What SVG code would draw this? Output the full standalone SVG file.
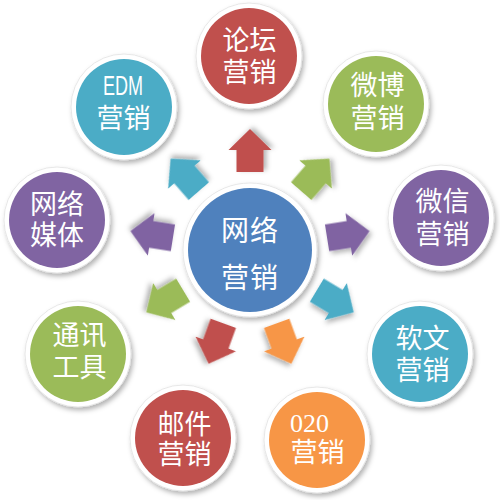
<svg xmlns="http://www.w3.org/2000/svg" width="500" height="500" viewBox="0 0 500 500">
<defs>
<filter id="sh" x="-20%" y="-20%" width="150%" height="150%">
<feDropShadow dx="2" dy="3" stdDeviation="2.5" flood-color="#000" flood-opacity="0.3"/>
</filter>
<polygon id="arr" points="-22,-13.5 0,-13.5 0,-21.5 21,0 0,21.5 0,13.5 -22,13.5"/>
</defs>
<style>
.ring{fill:#fff;stroke:#d8d8d8;stroke-width:0.6;filter:url(#sh)}
.t{fill:#fff;font-family:"Liberation Sans","Noto Sans CJK SC",sans-serif;font-size:27px;text-anchor:middle}
.red{fill:#c0504d}.green{fill:#9bbb59}.purple{fill:#8064a2}.teal{fill:#4bacc6}.orange{fill:#f79646}.blue{fill:#4f81bd}
.a{filter:url(#sh)}
</style>
<rect width="500" height="500" fill="#fff"/>
<g id="connectors">
<use href="#arr" class="a red" transform="translate(250,150) rotate(-90)"/>
<use href="#arr" class="a green" transform="translate(315.6,174.5) rotate(-49)"/>
<use href="#arr" class="a purple" transform="translate(348.8,234.4) rotate(-9)"/>
<use href="#arr" class="a teal" transform="translate(335.7,301.5) rotate(31)"/>
<use href="#arr" class="a orange" transform="translate(284.2,344) rotate(70)"/>
<use href="#arr" class="a red" transform="translate(215.8,344) rotate(110)"/>
<use href="#arr" class="a green" transform="translate(164.3,301.5) rotate(149)"/>
<use href="#arr" class="a purple" transform="translate(151.2,234.4) rotate(189)"/>
<use href="#arr" class="a teal" transform="translate(184.4,174.5) rotate(229)"/>
</g>
<g id="center">
<circle class="ring" cx="250" cy="250" r="67"/>
<circle class="blue" cx="250" cy="250" r="62"/>
<text class="t" x="250" y="241" style="font-size:28px;letter-spacing:1px">网络</text>
<text class="t" x="250" y="288" style="font-size:28px;letter-spacing:1px">营销</text>
</g>
<g id="luntan">
<circle class="ring" cx="249" cy="56" r="53"/>
<circle class="red" cx="249" cy="56" r="48"/>
<text class="t" x="249.5" y="50">论坛</text>
<text class="t" x="249.5" y="81.5">营销</text>
</g>
<g id="weibo">
<circle class="ring" cx="376" cy="104" r="53"/>
<circle class="green" cx="376" cy="104" r="48"/>
<text class="t" x="377.5" y="94.5">微博</text>
<text class="t" x="377.5" y="127.5">营销</text>
</g>
<g id="weixin">
<circle class="ring" cx="441" cy="218" r="53"/>
<circle class="purple" cx="441" cy="218" r="48"/>
<text class="t" x="442.5" y="210.5">微信</text>
<text class="t" x="442.5" y="243.5">营销</text>
</g>
<g id="ruanwen">
<circle class="ring" cx="420" cy="354" r="53"/>
<circle class="teal" cx="420" cy="354" r="48"/>
<text class="t" x="422.5" y="347.5">软文</text>
<text class="t" x="422.5" y="380">营销</text>
</g>
<g id="o2o">
<circle class="ring" cx="317" cy="440" r="53"/>
<circle class="orange" cx="317" cy="440" r="48"/>
<text x="290" y="432" style="fill:#fff;font-family:'Liberation Serif',serif;font-size:26px">020</text>
<text class="t" x="317.5" y="461.5">营销</text>
</g>
<g id="youjian">
<circle class="ring" cx="183" cy="438" r="53"/>
<circle class="red" cx="183" cy="438" r="48"/>
<text class="t" x="184.5" y="433.5">邮件</text>
<text class="t" x="184.5" y="463.5">营销</text>
</g>
<g id="tongxun">
<circle class="ring" cx="78" cy="354" r="53"/>
<circle class="green" cx="78" cy="354" r="48"/>
<text class="t" x="79.5" y="345">通讯</text>
<text class="t" x="79.5" y="376.5">工具</text>
</g>
<g id="meiti">
<circle class="ring" cx="57" cy="220" r="53"/>
<circle class="purple" cx="57" cy="220" r="48"/>
<text class="t" x="57" y="213.5">网络</text>
<text class="t" x="57" y="245">媒体</text>
</g>
<g id="edm">
<circle class="ring" cx="124" cy="107" r="53"/>
<circle class="teal" cx="124" cy="107" r="48"/>
<text x="123" y="95" textLength="40" lengthAdjust="spacingAndGlyphs" style="fill:#fff;font-family:'Liberation Sans',sans-serif;font-size:27px;text-anchor:middle">EDM</text>
<text class="t" x="123.5" y="127.5">营销</text>
</g>
</svg>
